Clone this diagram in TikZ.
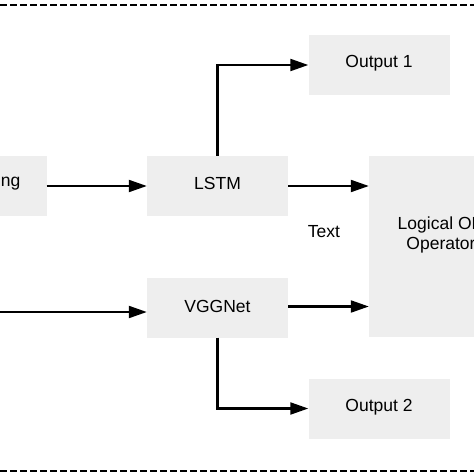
\documentclass[tikz,border=0pt]{standalone}
\usepackage{fontspec}
\setmainfont{Liberation Sans}
\usetikzlibrary{arrows.meta}
\definecolor{boxgray}{HTML}{EEEEEE}
\tikzset{
  box/.style={fill=boxgray, draw=none, minimum width=141pt, minimum height=60pt, inner sep=0pt, font=\fontsize{17}{20}\selectfont, align=center},
  lbl/.style={font=\fontsize{17.5}{20.5}\selectfont, inner sep=0pt},
  conn/.style={line width=2.1pt, -{Triangle[length=18pt,width=12pt]}},
  sep/.style={line width=2pt, dash pattern=on 6.5pt off 3.5pt}
}
\begin{document}
\begin{tikzpicture}[x=1pt,y=-1pt]
\useasboundingbox (0,0) rectangle (474,474);
\clip (0,0) rectangle (474,474);
\fill[white] (0,0) rectangle (474,474);
% separators
\coordinate (tl) at (0,4.5);
\coordinate (tr) at (474,4.5);
\coordinate (bl) at (0,471);
\coordinate (br) at (474,471);
\draw[sep] (tl) -- (tr);
\draw[sep] (bl) -- (br);
% nodes
\node[box] (embed) at (-24,186) {};
\node[lbl, anchor=east] (embedtext) at (20.5,184) {ng};
\node[box] (lstm) at (217.5,186) {};
\node[lbl] (lstmtext) at (217.5,183.5) {LSTM};
\node[box] (vgg) at (217.5,307.5) {};
\node[lbl] (vggtext) at (217.5,306) {VGGNet};
\node[box] (out1) at (379,65) {};
\node[lbl] (out1text) at (379,63) {Output 1};
\node[box] (out2) at (379,408.5) {};
\node[lbl] (out2text) at (379,407) {Output 2};
\node[box, minimum height=181pt] (logic) at (439.5,246.5) {};
\node[lbl, align=center] (logictext) at (441,235) {Logical OR\\Operator};
\node[lbl] (textlbl) at (324,232) {Text};
\coordinate (imgin) at (-10,312);
% connectors
\draw[conn] (embed.east) -- (lstm.west);
\draw[conn] (lstm.east) -- (lstm.east -| logic.west);
\draw[conn] (lstm.north) |- (out1.west);
\draw[conn] (imgin) -- (imgin -| vgg.west);
\draw[conn] ([yshift=1pt]vgg.east) -- ([yshift=1pt]vgg.east -| logic.west);
\draw[conn] (vgg.south) |- (out2.west);
\end{tikzpicture}
\end{document}
